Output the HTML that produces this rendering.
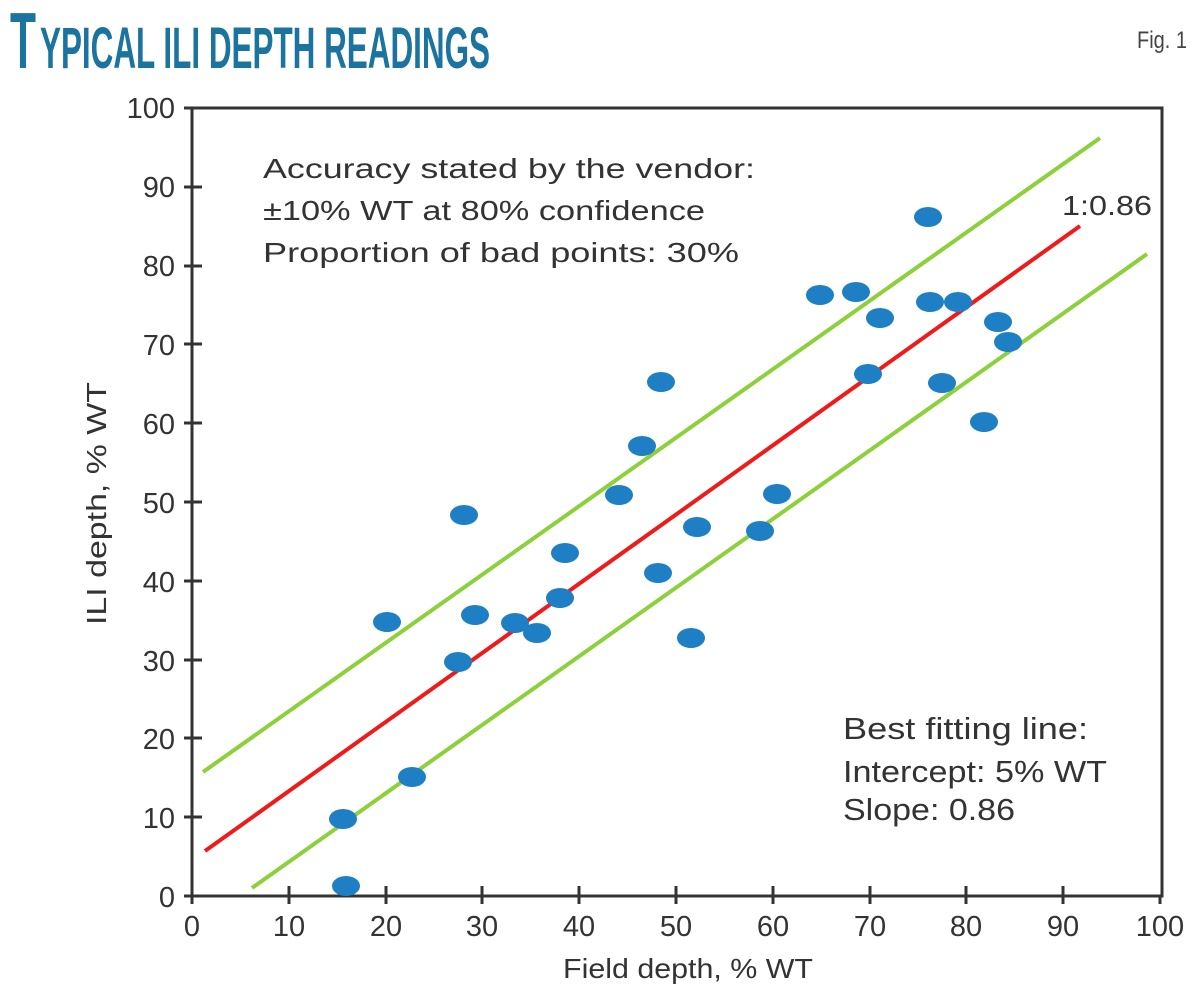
<!DOCTYPE html>
<html><head><meta charset="utf-8"><style>
html,body{margin:0;padding:0;background:#fff;}
svg{display:block}
</style></head><body>
<svg width="1200" height="993" viewBox="0 0 1200 993" xmlns="http://www.w3.org/2000/svg" font-family="Liberation Sans, sans-serif">
<rect width="1200" height="993" fill="#fff"/>
<g fill="#1b739f" font-family="Liberation Sans Narrow, Liberation Sans, sans-serif" font-weight="bold">
<text x="10" y="68" font-size="80" textLength="26" lengthAdjust="spacingAndGlyphs">T</text>
<text x="40" y="68" font-size="58" textLength="450" lengthAdjust="spacingAndGlyphs">YPICAL ILI DEPTH READINGS</text>
</g>
<text x="1137" y="48" font-size="24" fill="#444" textLength="50" lengthAdjust="spacingAndGlyphs">Fig. 1</text>
<rect x="192" y="108" width="970" height="788" fill="none" stroke="#333" stroke-width="3"/>
<g stroke="#333" stroke-width="3">
<line x1="184" y1="108" x2="192" y2="108"/><line x1="184" y1="187" x2="202" y2="187"/><line x1="184" y1="266" x2="202" y2="266"/><line x1="184" y1="344" x2="202" y2="344"/><line x1="184" y1="423" x2="202" y2="423"/><line x1="184" y1="502" x2="202" y2="502"/><line x1="184" y1="581" x2="202" y2="581"/><line x1="184" y1="660" x2="202" y2="660"/><line x1="184" y1="738" x2="202" y2="738"/><line x1="184" y1="817" x2="202" y2="817"/><line x1="184" y1="896" x2="192" y2="896"/>
<line x1="192" y1="896" x2="192" y2="904"/><line x1="289" y1="886" x2="289" y2="904"/><line x1="386" y1="886" x2="386" y2="904"/><line x1="482" y1="886" x2="482" y2="904"/><line x1="579" y1="886" x2="579" y2="904"/><line x1="676" y1="886" x2="676" y2="904"/><line x1="773" y1="886" x2="773" y2="904"/><line x1="870" y1="886" x2="870" y2="904"/><line x1="966" y1="886" x2="966" y2="904"/><line x1="1063" y1="886" x2="1063" y2="904"/><line x1="1160" y1="896" x2="1160" y2="904"/>
</g>
<g font-size="29" fill="#333" text-anchor="end">
<text x="175" y="118">100</text><text x="175" y="197">90</text><text x="175" y="276">80</text><text x="175" y="355">70</text><text x="175" y="434">60</text><text x="175" y="513">50</text><text x="175" y="592">40</text><text x="175" y="671">30</text><text x="175" y="749">20</text><text x="175" y="828">10</text><text x="175" y="907">0</text>
</g>
<g font-size="29" fill="#333" text-anchor="middle">
<text x="192" y="936">0</text><text x="289" y="936">10</text><text x="386" y="936">20</text><text x="482" y="936">30</text><text x="579" y="936">40</text><text x="676" y="936">50</text><text x="773" y="936">60</text><text x="870" y="936">70</text><text x="966" y="936">80</text><text x="1063" y="936">90</text><text x="1160" y="936">100</text>
</g>
<text x="563" y="978" font-size="28" fill="#333" textLength="250" lengthAdjust="spacingAndGlyphs">Field depth, % WT</text>
<text transform="translate(106,625) rotate(-90)" font-size="28" fill="#333" textLength="243" lengthAdjust="spacingAndGlyphs">ILI depth, % WT</text>
<line x1="203" y1="772" x2="1100" y2="138" stroke="#8cd03a" stroke-width="4"/>
<line x1="252" y1="888" x2="1147" y2="254" stroke="#8cd03a" stroke-width="4"/>
<line x1="205" y1="851" x2="1080" y2="226" stroke="#f01a1a" stroke-width="4"/>
<g fill="#1f7fc4">
<ellipse cx="928" cy="217" rx="14" ry="10"/><ellipse cx="820" cy="295" rx="14" ry="10"/><ellipse cx="856" cy="292" rx="14" ry="10"/><ellipse cx="930" cy="302" rx="14" ry="10"/><ellipse cx="958" cy="302" rx="14" ry="10"/><ellipse cx="880" cy="318" rx="14" ry="10"/><ellipse cx="998" cy="322" rx="14" ry="10"/><ellipse cx="1008" cy="342" rx="14" ry="10"/><ellipse cx="868" cy="374" rx="14" ry="10"/><ellipse cx="942" cy="383" rx="14" ry="10"/><ellipse cx="984" cy="422" rx="14" ry="10"/><ellipse cx="661" cy="382" rx="14" ry="10"/><ellipse cx="642" cy="446" rx="14" ry="10"/><ellipse cx="619" cy="495" rx="14" ry="10"/><ellipse cx="777" cy="494" rx="14" ry="10"/><ellipse cx="464" cy="515" rx="14" ry="10"/><ellipse cx="697" cy="527" rx="14" ry="10"/><ellipse cx="760" cy="531" rx="14" ry="10"/><ellipse cx="565" cy="553" rx="14" ry="10"/><ellipse cx="658" cy="573" rx="14" ry="10"/><ellipse cx="560" cy="598" rx="14" ry="10"/><ellipse cx="387" cy="622" rx="14" ry="10"/><ellipse cx="475" cy="615" rx="14" ry="10"/><ellipse cx="515" cy="623" rx="14" ry="10"/><ellipse cx="537" cy="633" rx="14" ry="10"/><ellipse cx="458" cy="662" rx="14" ry="10"/><ellipse cx="691" cy="638" rx="14" ry="10"/><ellipse cx="343" cy="819" rx="14" ry="10"/><ellipse cx="412" cy="777" rx="14" ry="10"/><ellipse cx="346" cy="886" rx="14" ry="10"/>
</g>
<g font-size="28" fill="#333">
<text x="263" y="178" textLength="492" lengthAdjust="spacingAndGlyphs">Accuracy stated by the vendor:</text>
<text x="263" y="220" textLength="442" lengthAdjust="spacingAndGlyphs">±10% WT at 80% confidence</text>
<text x="263" y="262" textLength="476" lengthAdjust="spacingAndGlyphs">Proportion of bad points: 30%</text>
<text x="1062" y="215" textLength="90" lengthAdjust="spacingAndGlyphs">1:0.86</text>
</g>
<g font-size="31" fill="#333">
<text x="843" y="739" textLength="245" lengthAdjust="spacingAndGlyphs">Best fitting line:</text>
<text x="843" y="782" textLength="264" lengthAdjust="spacingAndGlyphs">Intercept: 5% WT</text>
<text x="843" y="820" textLength="172" lengthAdjust="spacingAndGlyphs">Slope: 0.86</text>
</g>
</svg>
</body></html>
